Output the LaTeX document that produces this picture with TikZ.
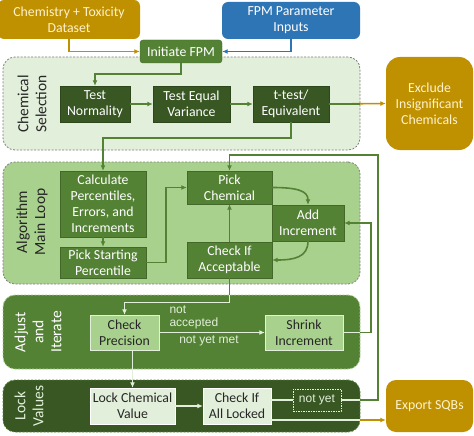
\documentclass[tikz,border=0pt]{standalone}
\usepackage{fontspec}
\setmainfont{Carlito}
\newfontfamily\smallfont{Liberation Sans}
\usetikzlibrary{arrows.meta,calc}

\definecolor{gold}{HTML}{BF9000}
\definecolor{cream}{HTML}{FFF2CC}
\definecolor{fpmblue}{HTML}{2E75B6}
\definecolor{dkgreen}{HTML}{385723}
\definecolor{mdgreen}{HTML}{548235}
\definecolor{ltgreen}{HTML}{A9D18E}
\definecolor{pale}{HTML}{E2EFDA}

\begin{document}
\begin{tikzpicture}[x=1pt,y=-1pt,
  box/.style={inner sep=0pt,align=center,font=\fontsize{13.8}{16}\selectfont},
  dkbox/.style={box,fill=dkgreen,text=white,draw=dkgreen!80!black,line width=0.4pt},
  mdbox/.style={box,fill=mdgreen,text=white,draw=mdgreen!80!black,line width=0.4pt},
  ltbox/.style={box,fill=ltgreen,text=black!85,draw=pale,line width=0.4pt},
  pabox/.style={box,fill=pale,text=black!85,draw=white,line width=0.4pt},
  region/.style={rounded corners=12pt,dash pattern=on 2pt off 1.5pt,line width=0.8pt,
    minimum width=357pt,inner sep=0pt},
  lab/.style={rotate=90,align=center,font=\fontsize{15.5}{18}\selectfont},
  small/.style={text=pale,font=\smallfont\fontsize{12}{13}\selectfont},
  arr/.style={-{Latex[length=5.5pt,width=5pt]}},
  gline/.style={mdgreen,line width=1.6pt},
  pline/.style={pale,line width=1.6pt},
  goldline/.style={gold,line width=1.6pt},
  blueline/.style={fpmblue,line width=1.6pt}]
\useasboundingbox (0,0) rectangle (474,436);

% regions
\node[region,fill=pale,draw=gray,minimum height=93pt] (sel) at (181.5,103.5) {};
\node[region,fill=ltgreen,draw=gray,minimum height=122pt] (alg) at (181.5,223) {};
\node[region,fill=mdgreen,draw=ltgreen,minimum height=74pt] (adj) at (181.5,332) {};
\node[region,fill=dkgreen,draw=mdgreen,minimum height=52pt] (lck) at (181.5,406) {};

\node[lab,text=black!85] (sellab) at (32,104) {Chemical\\Selection};
\node[lab,text=black!85] (alglab) at (32,222) {Algorithm\\Main Loop};
\node[lab,text=white] (adjlab) at (38,332) {Adjust\\and\\Iterate};
\node[lab,text=pale] (lcklab) at (29,406) {Lock\\Values};

% inputs and outputs
\node[box,fill=gold,text=cream,rounded corners=6pt,minimum width=142pt,minimum height=39pt] (chem) at (69,19.5) {Chemistry + Toxicity\\Dataset};
\node[box,fill=fpmblue,text=white,rounded corners=6pt,minimum width=138pt,minimum height=37pt] (param) at (291,20.5) {FPM Parameter\\Inputs};
\node[mdbox,rounded corners=3pt,minimum width=82pt,minimum height=23pt] (init) at (181,51.5) {Initiate FPM};
\node[box,fill=gold,text=cream,rounded corners=14pt,minimum width=87pt,minimum height=93pt] (excl) at (429.5,103.5) {Exclude\\Insignificant\\Chemicals};
\node[box,fill=gold,text=cream,rounded corners=10pt,minimum width=87pt,minimum height=52pt] (export) at (429.5,406) {Export SQBs};

% chemical selection
\node[dkbox,minimum width=70pt,minimum height=36pt] (tnorm) at (95,104) {Test\\Normality};
\node[dkbox,minimum width=77pt,minimum height=36pt] (tvar) at (191.5,104) {Test Equal\\Variance};
\node[dkbox,minimum width=76pt,minimum height=36pt] (ttest) at (291,104) {t-test/\\Equivalent};

% main loop
\node[mdbox,minimum width=86pt,minimum height=66pt] (calc) at (103,204) {Calculate\\Percentiles,\\Errors, and\\Increments};
\node[mdbox,minimum width=86pt,minimum height=31pt] (start) at (103,262.5) {Pick Starting\\Percentile};
\node[mdbox,minimum width=85pt,minimum height=33pt] (pick) at (229.5,187.5) {Pick\\Chemical};
\node[mdbox,minimum width=72pt,minimum height=36pt] (add) at (308,223) {Add\\Increment};
\node[mdbox,minimum width=85pt,minimum height=36pt] (check) at (229.5,260) {Check If\\Acceptable};

% adjust and iterate
\node[ltbox,minimum width=69pt,minimum height=35pt] (prec) at (124.5,332.5) {Check\\Precision};
\node[ltbox,minimum width=78pt,minimum height=35pt] (shrink) at (304,332.5) {Shrink\\Increment};

% lock values
\node[pabox,minimum width=85pt,minimum height=36pt] (lock) at (132.5,406) {Lock Chemical\\Value};
\node[pabox,minimum width=68pt,minimum height=36pt] (all) at (237,406) {Check If\\All Locked};
\node[box,small,draw=pale,line width=0.4pt,dash pattern=on 1.5pt off 1pt,fill=dkgreen,minimum width=48pt,minimum height=22pt] (notyet) at (317,400) {not yet};

\draw[goldline,arr] (chem.south) |- (init.west);
\draw[blueline,arr] (param.south) |- (init.east);
\draw[gline,arr] (init.south) -- ++(0,11) -| (tnorm.north);
\draw[gline,arr] (tnorm.east) -- (tvar.west);
\draw[gline,arr] (tvar.east) -- (ttest.west);
\draw[goldline,arr] (ttest.east) -- (excl.west);
\draw[gline] (ttest.east) -- (ttest.east -| sel.east);
\draw[gline,arr] (ttest.south) -- ++(0,16) -| (calc.north);

\draw[gline,arr] (calc.south) -- (start.north);
\draw[gline,arr] (start.east) -- ++(20,0) |- (pick.west);
\draw[gline,arr] (pick.east) .. controls +(25,0) and +(0,-14) .. (add.north);
\draw[gline,arr] (add.south) .. controls +(0,16) and +(22,0) .. (check.east);
\draw[gline,arr] (check.north) -- (pick.south);
\draw[gline] (check.south) -- (check.south |- adj.north);
\draw[pline,arr] (check.south |- adj.north) -- ++(0,8) -| (prec.north);

\draw[pline,arr] (prec.east) -- (shrink.west);
\node[small,anchor=west,align=left] (notacc) at (166,317.5) {not\\accepted};
\node[small] (notmet) at (209,341) {not yet met};
\draw[gline,arr] (shrink.east) -- ++(28,0) |- (add.east);
\draw[pline] (shrink.east) -- (shrink.east -| adj.east);
\draw[pline,arr] (prec.south -| lock.north) -- (lock.north);

\draw[pline,arr] (lock.east) -- (all.west);
\draw[pline] (notyet.west -| all.east) -- (notyet.west);
\coordinate (back) at (378,155);
\draw[gline,arr] (notyet.east) -| (back) -| (pick.north);
\draw[pline] (notyet.east) -- (notyet.east -| lck.east);
\coordinate (done) at ([yshift=-14pt]all.east);
\draw[goldline,arr] (done) -- (done -| export.west);
\draw[pline] (done) -- (done -| lck.east);
\end{tikzpicture}
\end{document}
